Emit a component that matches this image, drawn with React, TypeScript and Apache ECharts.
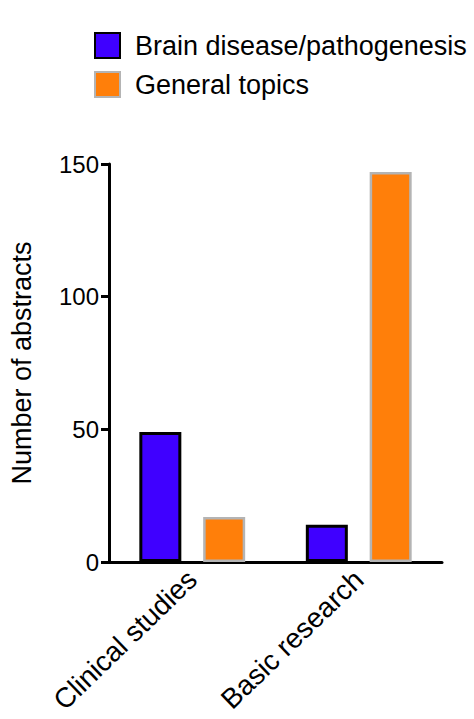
import React, { useEffect, useRef } from "react";
import * as echarts from "echarts";

const categories = ["Clinical studies", "Basic research"];
const brainDisease = [49, 14];
const generalTopics = [17, 147];
const yTicks = { min: 0, max: 150, interval: 50 };

const FONT = "Liberation Sans, Arial, Helvetica, sans-serif";

export default function App() {
  const ref = useRef<HTMLDivElement>(null);
  useEffect(() => {
    if (!ref.current) return;
    const chart = echarts.init(ref.current, undefined, { renderer: "svg" });
    chart.setOption({
      animation: false,
      backgroundColor: "#ffffff",
      textStyle: { fontFamily: FONT },
      legend: {
        orient: "vertical",
        left: 89,
        top: 27,
        itemWidth: 25,
        itemHeight: 25,
        itemGap: 12,
        icon: "rect",
        textStyle: { fontSize: 27, color: "#000", fontFamily: FONT, padding: [0, 0, 0, 10] },
        data: ["Brain disease/pathogenesis", "General topics"],
      },
      grid: { left: 100, right: 32, top: 164, bottom: 157, containLabel: false },
      xAxis: {
        type: "category",
        data: categories,
        axisLine: { lineStyle: { color: "#000", width: 3 } },
        axisTick: { alignWithLabel: true, length: 7, lineStyle: { color: "#000", width: 3 } },
        axisLabel: { rotate: 44, fontSize: 28, color: "#000", margin: 13, fontFamily: FONT },
      },
      yAxis: {
        type: "value",
        min: yTicks.min,
        max: yTicks.max,
        interval: yTicks.interval,
        name: "Number of abstracts",
        nameLocation: "middle",
        nameGap: 74,
        nameTextStyle: { fontSize: 27, color: "#000", fontFamily: FONT },
        axisLine: { show: true, lineStyle: { color: "#000", width: 3 } },
        axisTick: { show: true, length: 8, lineStyle: { color: "#000", width: 3 } },
        axisLabel: { fontSize: 24, color: "#000", margin: 10, fontFamily: FONT },
        splitLine: { show: false },
      },
      series: [
        {
          name: "Brain disease/pathogenesis",
          type: "bar",
          data: brainDisease,
          barWidth: 42,
          barGap: "52%",
          itemStyle: { color: "#3F00FF", borderColor: "#000", borderWidth: 3 },
        },
        {
          name: "General topics",
          type: "bar",
          data: generalTopics,
          barWidth: 42,
          itemStyle: { color: "#FF7F0A", borderColor: "#B4B4B4", borderWidth: 2.5 },
        },
      ],
    });
    return () => chart.dispose();
  }, []);
  return (
    <div
      ref={ref}
      style={{ position: "fixed", left: 0, top: 0, width: 474, height: 719 }}
    />
  );
}
